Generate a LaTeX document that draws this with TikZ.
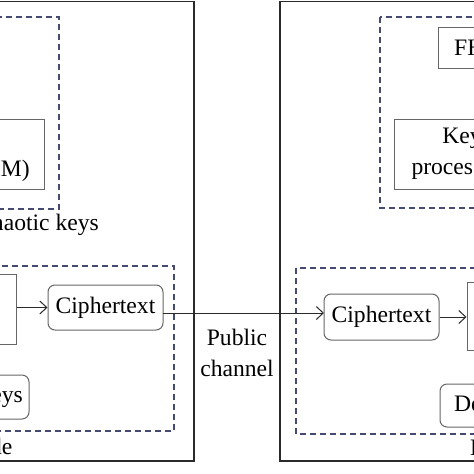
\documentclass[tikz,border=0pt]{standalone}
\usepackage{fontspec}
\setmainfont{Liberation Serif}
\usetikzlibrary{arrows.meta}
\definecolor{outer}{HTML}{2A2A2A}
\definecolor{dash}{HTML}{454A70}
\definecolor{inner}{HTML}{666666}
\begin{document}
\begin{tikzpicture}[x=1pt,y=-1pt,
  txt/.style={font=\fontsize{23.6}{31}\selectfont, text=black, inner sep=0pt},
  outerbox/.style={draw=outer, line width=1.8pt},
  dashbox/.style={draw=dash, line width=1.2pt, dash pattern=on 6pt off 4pt},
  plainbox/.style={draw=inner, line width=1pt},
  roundbox/.style={draw=inner, line width=1pt, rounded corners=7pt},
  arr/.style={draw=outer, line width=1pt, -{Straight Barb[length=7pt,width=13pt]}}]
\useasboundingbox (0,0) rectangle (474,474);
\fill[white] (0,0) rectangle (474,474);
\clip (0,0) rectangle (474,474);
% outer boxes
\draw[outerbox] (-20,1.5) rectangle (194,461);
\draw[outerbox] (280,1.5) rectangle (500,461);
% left top group
\draw[dashbox] (-20,17) rectangle (59,209);
\draw[plainbox] (-20,119) rectangle (44,189);
\node[txt, anchor=east] (lm) at (30,171) {(FHM)};
\node[txt, anchor=east] (lk) at (99,225) {chaotic keys};
% left bottom group
\draw[dashbox] (-20,266) rectangle (174,431);
\node[plainbox, minimum width=60pt, minimum height=70pt, inner sep=0pt] (enc) at (-14,309) {};
\node[roundbox, minimum width=115pt, minimum height=45pt, inner sep=0pt] (c1) at (105.5,307.5) {};
\node[txt] at (c1) {Ciphertext};
\node[roundbox, minimum width=80pt, minimum height=44pt, inner sep=0pt] (ks) at (-11,397) {};
\node[txt, anchor=east] at (23,397) {keys};
\node[txt, anchor=east] (ls) at (12.5,446) {side};
\draw[arr] (enc.east |- c1.center) -- (c1.west);
% right top group
\draw[dashbox] (380,17) rectangle (500,208);
\node[plainbox, minimum width=90pt, minimum height=41pt, inner sep=0pt] (fb) at (483,47.5) {};
\node[txt, anchor=west] at (454,48) {FHM};
\node[plainbox, minimum width=140pt, minimum height=70pt, inner sep=0pt] (kp) at (464,154) {};
\node[txt, align=center] at (462,154) {Key\\processing};
% right bottom group
\draw[dashbox] (296,268) rectangle (500,434);
\node[roundbox, minimum width=115pt, minimum height=46pt, inner sep=0pt] (c2) at (381.5,317) {};
\node[txt] at (c2) {Ciphertext};
\node[plainbox, minimum width=60pt, minimum height=68pt, inner sep=0pt] (dec) at (497,316) {};
\node[roundbox, minimum width=100pt, minimum height=43pt, inner sep=0pt] (db) at (490,405.5) {};
\node[txt, anchor=west] at (454,406) {Decrypted};
\node[txt, anchor=west] (rs) at (470,447) {Bob};
\draw[arr] (c2.east) -- (c2.east -| dec.west);
% public channel
\coordinate (p1) at (163,313);
\coordinate (p2) at (324,313);
\draw[arr] (p1) -- (p2);
\node[txt, align=center] (pc) at (237,353) {Public\\channel};
\end{tikzpicture}
\end{document}
